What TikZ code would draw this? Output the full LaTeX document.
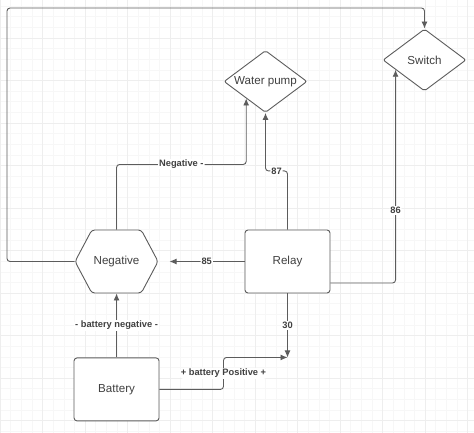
\documentclass[tikz,border=0pt]{standalone}
\usepackage{fontspec}
\setmainfont{Liberation Sans}
\usepackage{tikz}
\usetikzlibrary{arrows.meta,positioning,shapes.geometric,shapes.symbols,calc}
\usepackage{xcolor}
\definecolor{wire}{HTML}{5C5C5C}
\definecolor{ink}{HTML}{404040}
\definecolor{gridminor}{HTML}{F7F7F7}
\definecolor{gridmajor}{HTML}{EEEEEE}

\begin{document}
\begin{tikzpicture}[
  x=1pt, y=-1pt,
  part/.style={draw=wire, line width=0.9pt, rounded corners=3pt, fill=white, minimum width=85pt, minimum height=63pt, align=center, text=ink, font=\fontsize{11.6}{14}\selectfont},
  load/.style={part, diamond, aspect=1.34, inner sep=0pt, minimum width=83pt, minimum height=62pt, rounded corners=2pt},
  hub/.style={part, signal, signal to=west and east, signal pointer angle=124, inner xsep=0pt, minimum width=83pt, minimum height=63pt},
  wirearrow/.style={-{Latex[length=7pt,width=6pt]}, line width=0.9pt, draw=wire, rounded corners=3pt},
  tag/.style={font=\fontsize{9.3}{11}\selectfont\bfseries, text=ink, fill=white, inner sep=1pt}
]
\useasboundingbox (0,0) rectangle (474,433);
% background grid
\begin{scope}[yshift=4.5pt]
\draw[gridminor, line width=0.5pt, step=10.625pt] (0,4.5) grid (474,437.5);
\draw[gridmajor, line width=0.6pt, step=42.5pt] (0,4.5) grid (474,437.5);
\end{scope}

\node[part] (relay) at (287.5,261.5) {Relay};
\node[hub, left=86pt of relay] (neg) {Negative};
\node[part, below=64pt of neg] (bat) {Battery};
\node[load] (pump) at (265.5,81.5) {Water pump};
\node[load] (sw) at (424.5,60) {Switch};

\coordinate (loop) at (7,8);
\coordinate (j30) at (relay.south |- bat.north);
\coordinate (pumpneg) at ($(pump.west)!.54!(pump.south)$);
\coordinate (swin) at ($(sw.west)!.31!(sw.south)$);

\draw[wirearrow] (neg.west) -| (loop) -| (sw.north);
\draw[wirearrow] (neg.north) |- node[tag,pos=.75]{Negative -} ([yshift=-66pt]pumpneg) -- (pumpneg);
\draw[wirearrow] (relay.north) |- node[tag,pos=.75]{87} ([yshift=-58pt]pump.south) -- (pump.south);
\draw[wirearrow] ([yshift=-21.5pt]relay.east) -| node[tag,pos=.67]{86} (swin);
\draw[wirearrow, shorten >=11pt] (relay.west) -- node[tag,pos=.44]{85} (neg.east);
\draw[wirearrow] (relay.south) -- node[tag]{30} (j30);
\draw[wirearrow] (bat.north) -- node[tag]{- battery negative -} (neg.south);
\draw[wirearrow] (bat.east) -| node[tag,pos=.75]{+ battery Positive +} ([xshift=-64pt]j30) -- (j30);
\end{tikzpicture}
\end{document}
